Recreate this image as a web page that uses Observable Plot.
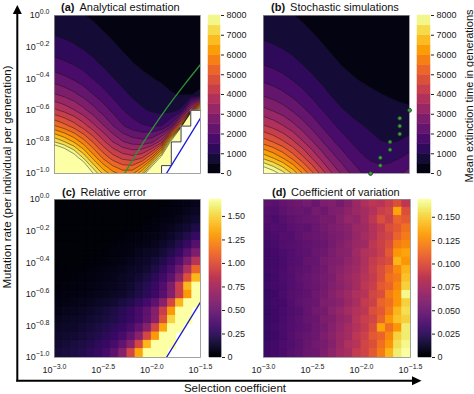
<!DOCTYPE html>
<html><head><meta charset="utf-8">
<script src="https://cdn.jsdelivr.net/npm/d3@7"></script>
<script src="https://cdn.jsdelivr.net/npm/@observablehq/plot@0.6"></script>
<style>
body{margin:0;background:#fff;}
#chart{position:relative;width:474px;height:394px;overflow:hidden;background:#fff;font-family:"Liberation Sans",Arial,Helvetica,sans-serif;}
</style></head><body><div id="chart"></div>
<script>
// ---------- data ----------
// sample grid of the contour panels (log10 values)
const logS = [-3,-2.9,-2.8,-2.7,-2.6,-2.5,-2.4,-2.3,-2.2,-2.1,-2,-1.9,-1.8,-1.7,-1.6,-1.5];
const logU = [0,-0.1,-0.2,-0.3,-0.4,-0.5,-0.6,-0.7,-0.8,-0.9,-1];
// (a) analytical mean extinction time, rows = logU (top to bottom), cols = logS
const analytic = [
 [676,633,581,516,443,373,308,250,206,175,154,138,125,115,105,98],
 [914,856,786,697,600,505,416,338,279,237,208,186,169,155,143,133],
 [1235,1157,1062,942,810,682,562,457,377,320,282,252,228,210,193,179],
 [1668,1563,1434,1273,1094,921,759,617,509,432,380,340,309,284,265,258],
 [2254,2112,1938,1720,1479,1244,1026,834,687,584,514,460,417,390,380,395],
 [3046,2854,2620,2324,1998,1681,1386,1127,929,789,694,600,520,480,490,560],
 [4115,3856,3539,3140,2700,2270,1870,1520,1255,1066,938,850,830,1100,4000,9000],
 [5560,5210,4780,4240,3650,3070,2530,2060,1750,1560,1480,1520,2200,6000,30000,30000],
 [7512,7040,6460,5730,4930,4150,3500,3050,2800,2700,2850,3800,8500,30000,30000,30000],
 [10150,9450,8500,7400,6300,5400,4750,4350,4200,4450,5600,8500,30000,30000,30000,30000],
 [13720,12700,11300,9700,8000,6900,6200,5800,5850,7000,10000,20000,30000,30000,30000,30000]
];
// (b) simulated mean extinction time
const simulated = [
 [660,622,574,514,447,381,318,263,220,189,168,152,139,128,118,110],
 [856,806,744,667,580,494,413,342,285,246,217,197,180,166,153,143],
 [1110,1046,965,865,751,640,535,443,370,319,282,255,233,215,199,185],
 [1440,1356,1251,1122,975,831,694,575,480,413,366,331,302,279,258,240],
 [1867,1759,1622,1454,1264,1077,900,745,622,536,474,429,392,362,334,312],
 [2422,2282,2105,1887,1640,1397,1167,966,807,695,615,557,509,470,434,404],
 [3141,2959,2730,2447,2126,1812,1514,1253,1046,901,798,722,660,609,570,550],
 [4074,3838,3540,3174,2758,2351,1964,1626,1357,1169,1035,937,830,770,730,780],
 [5283,4977,4591,4115,3577,3048,2546,2108,1759,1490,1280,1120,1020,980,1030,1180],
 [6852,6455,5954,5338,4639,3954,3303,2734,2282,1900,1600,1420,1330,1360,1480,1680],
 [8886,8371,7722,6922,6016,5127,4283,3546,2959,2450,2050,1800,1720,1780,1950,2200]
];
// (c) relative error, 19 rows (top to bottom) x 18 cols; null = undefined
const relErr = [
 [.02,.02,.02,.02,.02,.02,.02,.02,.02,.02,.02,.02,.02,.03,.04,.05,.06,.08],
 [.02,.02,.02,.02,.02,.02,.02,.02,.02,.02,.02,.02,.03,.04,.05,.06,.08,.1],
 [.02,.02,.02,.02,.02,.02,.02,.02,.02,.02,.02,.03,.04,.05,.06,.08,.11,.14],
 [.02,.02,.02,.02,.02,.02,.02,.02,.02,.02,.03,.04,.05,.07,.09,.12,.15,.2],
 [.02,.02,.02,.02,.02,.02,.02,.02,.03,.04,.05,.06,.07,.09,.12,.16,.22,.3],
 [.02,.02,.02,.02,.02,.02,.02,.03,.04,.05,.06,.07,.09,.12,.16,.22,.3,.42],
 [.02,.02,.02,.02,.02,.02,.03,.04,.05,.06,.08,.1,.12,.16,.22,.3,.42,.58],
 [.02,.02,.02,.02,.03,.03,.04,.05,.06,.08,.1,.12,.16,.21,.29,.4,.58,.82],
 [.02,.02,.03,.03,.04,.05,.06,.07,.08,.1,.12,.15,.2,.27,.37,.52,.78,1.1],
 [.03,.03,.03,.04,.05,.06,.07,.08,.1,.12,.15,.19,.25,.33,.45,.65,1.0,1.4],
 [.03,.04,.04,.05,.06,.07,.08,.09,.11,.14,.18,.23,.3,.4,.58,.9,1.4,2],
 [.04,.05,.05,.06,.07,.08,.09,.11,.13,.16,.2,.25,.32,.42,.6,.9,1.3,2],
 [.05,.06,.07,.08,.09,.11,.13,.15,.18,.22,.28,.35,.45,.62,.95,1.4,2,2],
 [.07,.08,.09,.1,.12,.14,.17,.2,.24,.29,.36,.45,.6,.9,1.3,2,2,null],
 [.09,.1,.11,.12,.14,.16,.18,.21,.25,.3,.36,.46,.62,1.0,1.5,2,2,null],
 [.11,.12,.13,.15,.17,.19,.22,.26,.3,.36,.46,.62,.95,1.35,2,2,null,null],
 [.13,.14,.15,.17,.19,.22,.26,.3,.36,.46,.62,.95,1.3,2,2,null,null,null],
 [.15,.16,.18,.2,.22,.26,.3,.36,.46,.62,.95,1.4,2,2,2,null,null,null],
 [.17,.18,.2,.22,.25,.29,.35,.45,.62,.95,1.35,2,2,2,null,null,null,null]
];
// (d) coefficient of variation, 19 rows x 18 cols
const coefVar = [
 [.045,.044,.047,.05,.052,.055,.05,.058,.06,.055,.062,.07,.078,.085,.082,.09,.1,.085],
 [.042,.04,.045,.048,.05,.048,.055,.052,.058,.06,.065,.07,.075,.08,.09,.095,.135,.1],
 [.04,.038,.042,.045,.048,.05,.052,.056,.055,.062,.068,.066,.075,.085,.1,.092,.11,.105],
 [.038,.04,.04,.043,.046,.045,.05,.054,.058,.06,.064,.07,.072,.08,.088,.1,.105,.115],
 [.036,.038,.041,.04,.045,.048,.05,.052,.056,.058,.062,.068,.075,.08,.09,.095,.11,.12],
 [.034,.036,.04,.042,.044,.046,.048,.05,.055,.06,.065,.07,.072,.085,.092,.1,.12,.125],
 [.032,.035,.038,.04,.043,.045,.05,.052,.057,.062,.063,.072,.08,.083,.09,.105,.13,.135],
 [.033,.034,.036,.04,.042,.047,.048,.055,.058,.06,.066,.07,.078,.088,.095,.1,.14,.13],
 [.032,.035,.037,.041,.044,.046,.05,.053,.06,.063,.068,.072,.08,.09,.1,.11,.125,.14],
 [.031,.034,.038,.04,.045,.048,.052,.055,.058,.065,.07,.075,.082,.088,.1,.115,.12,.145],
 [.032,.035,.036,.04,.043,.047,.05,.054,.06,.064,.068,.074,.085,.09,.105,.11,.125,.15],
 [.03,.033,.037,.041,.044,.046,.052,.055,.062,.067,.072,.078,.082,.095,.1,.12,.13,.165],
 [.031,.034,.035,.04,.045,.048,.05,.058,.06,.063,.07,.076,.088,.092,.11,.115,.13,.15],
 [.029,.033,.036,.039,.042,.047,.053,.055,.063,.068,.074,.08,.085,.1,.105,.12,.14,.155],
 [.03,.032,.036,.04,.044,.048,.05,.057,.06,.066,.07,.082,.09,.095,.11,.13,.145,.15],
 [.031,.034,.037,.04,.043,.046,.052,.055,.062,.068,.075,.08,.088,.1,.135,.115,.13,.16],
 [.03,.033,.036,.041,.045,.048,.051,.058,.064,.07,.074,.085,.092,.105,.11,.125,.15,.16],
 [.032,.034,.038,.04,.044,.049,.053,.056,.062,.07,.078,.082,.095,.1,.115,.13,.155,.165],
 [.033,.035,.037,.042,.045,.05,.052,.058,.065,.072,.076,.088,.094,.105,.12,.14,.16,.168]
];
// green curve (a), blue line (a,c), green dots (b)
const greenS = [-2.28,-2.14,-2.01,-1.84,-1.675,-1.5];
const greenU = [-1.0,-0.855,-0.73,-0.58,-0.445,-0.31];
const blueS = [-1.85,-1.5];
const blueU = [-1.0,-0.65];
const dotS = [-1.5,-1.6,-1.6,-1.6,-1.7,-1.7,-1.8,-1.8,-1.9];
const dotU = [-0.6,-0.65,-0.7,-0.75,-0.8,-0.85,-0.9,-0.95,-1.0];
// undefined (white) columns of the analytical panel: column left edge and top
const nanColS = [-1.9,-1.8,-1.7,-1.6];
const nanColTopU = [-0.95,-0.8,-0.7,-0.6];
// ticks
const xTicks = [-3,-2.5,-2,-1.5];
const yTicks = [0,-0.2,-0.4,-0.6,-0.8,-1];
const levels = [0,500,1000,1500,2000,2500,3000,3500,4000,4500,5000,5500,6000,6500,7000,7500,8000];
const timeTicks = [0,1000,2000,3000,4000,5000,6000,7000,8000];
const errTicks = [0,0.25,0.5,0.75,1,1.25,1.5];
const cvTicks = [0,0.025,0.05,0.075,0.1,0.125,0.15];
const errMax = 1.68, cvMax = 0.169;
const titles = [["(a)","Analytical estimation"],["(b)","Stochastic simulations"],["(c)","Relative error"],["(d)","Coefficient of variation"]];
const yLabel = "Mutation rate (per individual per generation)";
const xLabel = "Selection coefficient";
const cbLabel = "Mean extinction time in generations";

// ---------- helpers ----------
const FONT = '"Liberation Sans", Arial, Helvetica, sans-serif';
const chart = document.getElementById("chart");
const NS = "http://www.w3.org/2000/svg";
const baseStyle = {fontFamily: FONT, fontSize: "9px", background: "transparent", overflow: "visible", color: "#222"};
const powLabel = d => "10^" + (d < 0 ? "\u2212" : "") + Math.abs(d).toFixed(1);
function supify(svg) {
  svg.querySelectorAll("text").forEach(t => {
    const s = t.textContent;
    if (!s.includes("^")) return;
    const [base, exp] = s.split("^");
    while (t.firstChild) t.removeChild(t.firstChild);
    const a = document.createElementNS(NS, "tspan"); a.textContent = base;
    const b = document.createElementNS(NS, "tspan"); b.textContent = exp;
    b.setAttribute("dy", "-0.6em"); b.setAttribute("font-size", "7");
    t.append(a, b);
  });
}
function place(el, left, top) {
  el.style.position = "absolute"; el.style.left = left + "px"; el.style.top = top + "px";
  chart.appendChild(el); supify(el);
}
const timeColor = {type: "linear", scheme: "inferno", domain: [-250, 7750], clamp: true};
const errColor = {type: "linear", scheme: "inferno", domain: [0, errMax], clamp: true};
const cvColor = {type: "linear", scheme: "inferno", domain: [0, cvMax], clamp: true};
const frame = () => Plot.frame({stroke: "#8c8c8c", strokeWidth: 0.8});

function contourMarks(grid) {
  const w = logS.length, h = logU.length;
  const hx = (logS[1] - logS[0]) / 2, hy = (logU[1] - logU[0]) / 2;
  const common = {width: w, height: h, x1: logS[0] - hx, x2: logS[w - 1] + hx, y1: logU[0] - hy, y2: logU[h - 1] + hy, clip: true, value: Plot.identity};
  const values = grid.flat();
  return [
    Plot.contour(values, {...common, fill: "value", stroke: "none", thresholds: levels}),
    Plot.contour(values, {...common, fill: "none", stroke: "#111", strokeWidth: 0.5, strokeOpacity: 0.9, thresholds: levels.slice(1)})
  ];
}
function cells(grid) {
  const rows = grid.length, cols = grid[0].length;
  const s0 = xTicks[0], s1 = xTicks[xTicks.length - 1], u0 = yTicks[0], u1 = yTicks[yTicks.length - 1];
  const out = [];
  grid.forEach((row, r) => row.forEach((v, c) => {
    if (v == null) return;
    out.push({x1: s0 + (s1 - s0) * c / cols, x2: s0 + (s1 - s0) * (c + 1) / cols,
              y1: u0 + (u1 - u0) * r / rows, y2: u0 + (u1 - u0) * (r + 1) / rows, v});
  }));
  return Plot.rect(out, {x1: "x1", x2: "x2", y1: "y1", y2: "y2", fill: "v", stroke: "v", strokeWidth: 1, clip: true});
}
const pairs = (a, b) => a.map((v, i) => [v, b[i]]);
const blueMark = () => Plot.line(pairs(blueS, blueU), {stroke: "#1c1cd8", strokeWidth: 1.3, clip: true});
const xScale = {domain: [xTicks[0], xTicks[xTicks.length - 1]]};
const yScale = {domain: [yTicks[yTicks.length - 1], yTicks[0]]};

// ---------- panel (a) ----------
const stepS = logS[1] - logS[0];
const nanRects = nanColS.map((s, i) => ({x1: s, x2: s + stepS, y1: nanColTopU[i], y2: yTicks[yTicks.length - 1]}));
const stairPts = [[nanColS[0], yTicks[yTicks.length - 1]]];
nanColS.forEach((s, i) => { stairPts.push([s, nanColTopU[i]]); stairPts.push([s + stepS, nanColTopU[i]]); });
const pa = Plot.plot({
  width: 205, height: 180, marginLeft: 54, marginRight: 5, marginTop: 15, marginBottom: 7,
  style: baseStyle,
  x: {...xScale, axis: null},
  y: {...yScale, ticks: yTicks, tickFormat: powLabel, tickSize: 0, tickPadding: 5, label: null},
  color: timeColor,
  marks: [
    ...contourMarks(analytic),
    Plot.rect(nanRects, {x1: "x1", x2: "x2", y1: "y1", y2: "y2", fill: "white"}),
    Plot.line(stairPts, {stroke: "#111", strokeWidth: 0.8}),
    Plot.line(pairs(greenS, greenU), {stroke: "#2f8f35", strokeWidth: 1.3, curve: "natural", clip: true}),
    blueMark(),
    frame()
  ]
});
place(pa, 0, 0);

// ---------- panel (b) ----------
const pb = Plot.plot({
  width: 156, height: 180, marginLeft: 5, marginRight: 5, marginTop: 15, marginBottom: 7,
  style: baseStyle,
  x: {...xScale, axis: null},
  y: {...yScale, axis: null},
  color: timeColor,
  marks: [
    ...contourMarks(simulated),
    frame(),
    Plot.dot(pairs(dotS, dotU), {r: 2, fill: "#3aa040", stroke: "#1d2b1d", strokeWidth: 0.7})
  ]
});
place(pb, 258, 0);

// ---------- panel (c) ----------
const pc = Plot.plot({
  width: 205, height: 190, marginLeft: 54, marginRight: 5, marginTop: 9, marginBottom: 23,
  style: baseStyle,
  x: {...xScale, ticks: xTicks, tickFormat: powLabel, tickSize: 0, tickPadding: 9, label: null},
  y: {...yScale, ticks: yTicks, tickFormat: powLabel, tickSize: 0, tickPadding: 5, label: null},
  color: errColor,
  marks: [cells(relErr), blueMark(), frame()]
});
place(pc, 0, 190);

// ---------- panel (d) ----------
const pd = Plot.plot({
  width: 156, height: 190, marginLeft: 5, marginRight: 4, marginTop: 9, marginBottom: 23,
  style: baseStyle,
  x: {...xScale, ticks: xTicks, tickFormat: powLabel, tickSize: 0, tickPadding: 9, label: null},
  y: {...yScale, axis: null},
  color: cvColor,
  marks: [cells(coefVar), frame()]
});
place(pd, 258, 190);

// ---------- colour bars ----------
function colorbar(bands, {height, mt, mb, barW, max, ticks, fmt, color}) {
  return Plot.plot({
    width: barW + 40, height, marginLeft: 0, marginRight: 40, marginTop: mt, marginBottom: mb,
    style: baseStyle,
    x: {domain: [0, 1], axis: null},
    y: {domain: [0, max], ticks, tickFormat: fmt, tickSize: 3, tickPadding: 3, axis: "right", label: null},
    color,
    marks: [Plot.rect(bands, {x1: 0, x2: 1, y1: "y1", y2: "y2", fill: "c", stroke: "c", strokeWidth: 0.5})]
  });
}
const timeBands = levels.slice(0, -1).map((v, i) => ({y1: v, y2: levels[i + 1], c: v}));
const ramp = max => d3.range(160).map(i => ({y1: i * max / 160, y2: (i + 1) * max / 160, c: (i + 0.5) * max / 160}));
const topOpts = {height: 180, mt: 15, mb: 7, max: levels[levels.length - 1], ticks: timeTicks, fmt: d => String(d), color: timeColor};
place(colorbar(timeBands, {...topOpts, barW: 12}), 208, 0);
place(colorbar(timeBands, {...topOpts, barW: 13}), 417, 0);
place(colorbar(ramp(errMax), {height: 190, mt: 9, mb: 23, barW: 12, max: errMax, ticks: errTicks, fmt: d => d === 0 ? "0" : d.toFixed(2), color: errColor}), 209, 190);
place(colorbar(ramp(cvMax), {height: 190, mt: 9, mb: 23, barW: 13, max: cvMax, ticks: cvTicks, fmt: d => d === 0 ? "0" : d.toFixed(3), color: cvColor}), 418, 190);

// ---------- overlay: titles, axis labels, arrows ----------
const ov = document.createElementNS(NS, "svg");
ov.setAttribute("width", 474); ov.setAttribute("height", 394);
ov.style.cssText = "position:absolute;left:0;top:0;pointer-events:none;font-family:" + FONT;
const titlePos = [[61, 11], [271, 11], [62, 196], [272, 196]];
let html = "";
titles.forEach(([tag, txt], i) => {
  html += `<text x="${titlePos[i][0]}" y="${titlePos[i][1]}" font-size="11" fill="#111"><tspan font-weight="bold">${tag}</tspan><tspan dx="5">${txt}</tspan></text>`;
});
html += `<text transform="translate(10.5,177) rotate(-90)" text-anchor="middle" font-size="11.5" fill="#111">${yLabel}</text>`;
html += `<text x="235" y="392" text-anchor="middle" font-size="11.5" fill="#111">${xLabel}</text>`;
html += `<text transform="translate(472.5,96) rotate(-90)" text-anchor="middle" font-size="11" fill="#111">${cbLabel}</text>`;
html += `<line x1="17.3" y1="381.5" x2="17.3" y2="13" stroke="#000" stroke-width="2"/>`;
html += `<polygon points="17.3,5 12.8,14 21.8,14" fill="#000"/>`;
html += `<line x1="16.3" y1="380.7" x2="413" y2="380.7" stroke="#000" stroke-width="2"/>`;
html += `<polygon points="421.5,380.7 412,376.2 412,385.2" fill="#000"/>`;
ov.innerHTML = html;
chart.appendChild(ov);
</script></body></html>
